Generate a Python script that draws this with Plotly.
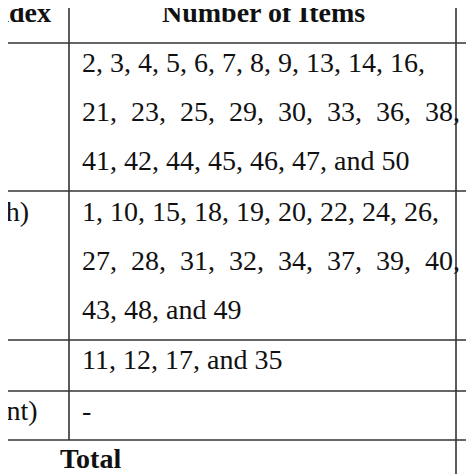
import plotly.graph_objects as go

header = ["Difficulty Index", "Number of Items"]
categories = ["Medium", "Easy (High)", "Difficult < 0.30", "(Very Different)"]
item_lines = [
    ["2, 3, 4, 5, 6, 7, 8, 9, 13, 14, 16,",
     "21,  23,  25,  29,  30,  33,  36,  38,",
     "41, 42, 44, 45, 46, 47, and 50"],
    ["1, 10, 15, 18, 19, 20, 22, 24, 26,",
     "27,  28,  31,  32,  34,  37,  39,  40,",
     "43, 48, and 49"],
    ["11, 12, 17, and 35"],
    ["-"],
]
total_label = "Total"

W = 474
off = 8
fig = go.Figure()
fig.update_layout(width=W, height=W, margin=dict(l=0, r=0, t=0, b=0),
                  paper_bgcolor="white", plot_bgcolor="white", showlegend=False,
                  xaxis=dict(range=[off, W + off], visible=False, fixedrange=True),
                  yaxis=dict(range=[W + off, off], visible=False, fixedrange=True))

font = dict(family="Liberation Serif", size=28, color="#111")
bold = dict(family="Liberation Serif", size=28, color="#111", weight="bold")
lc = "#333"

hlines = [43, 191, 340, 391, 440]
for y in hlines:
    fig.add_shape(type="line", x0=0, x1=W + 20, y0=y, y1=y, line=dict(color=lc, width=1.6))
fig.add_shape(type="line", x0=69, x1=69, y0=0, y1=440, line=dict(color=lc, width=1.6))
fig.add_shape(type="line", x0=456, x1=456, y0=0, y1=W + 20, line=dict(color=lc, width=1.6))

fig.add_annotation(x=53, y=12, text="<b>" + header[0] + "</b>", xanchor="right", showarrow=False, font=bold)
fig.add_annotation(x=263, y=12, text="<b>" + header[1] + "</b>", xanchor="center", showarrow=False, font=bold)

row_tops = [62, 211, 359, 410]
cat_ends = [None, 31, 5, 40]
for cat, top, end, lines in zip(categories, row_tops, cat_ends, item_lines):
    if end is not None:
        fig.add_annotation(x=end, y=top, text=cat, xanchor="right", showarrow=False, font=font)
    for i, ln in enumerate(lines):
        fig.add_annotation(x=80, y=top + 49 * i, text=ln, xanchor="left", showarrow=False, font=font)

fig.add_annotation(x=90, y=458, text="<b>" + total_label + "</b>", xanchor="center", showarrow=False, font=bold)

fig.write_html("out.html")
